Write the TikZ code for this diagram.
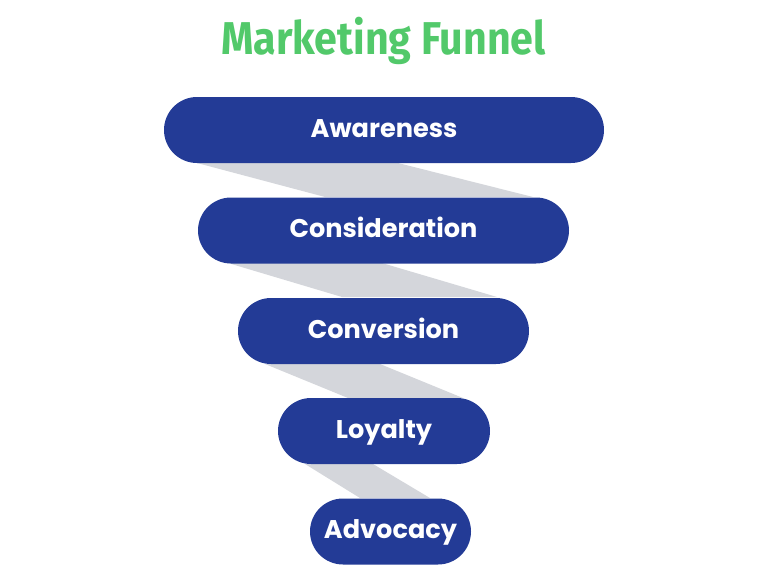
\documentclass[tikz,border=0pt]{standalone}
\usepackage{fontspec}
\newfontfamily\barfont{Poppins}
\newfontfamily\titlefont{Fira Sans}[FakeStretch=0.895]
\usetikzlibrary{calc}
\definecolor{barblue}{RGB}{35,59,150}
\definecolor{bandgray}{RGB}{212,214,219}
\definecolor{titlegreen}{RGB}{82,201,106}
\begin{document}
\begin{tikzpicture}[x=1pt,y=-1pt,
  stage/.style={fill=barblue, draw=none, rounded corners=33pt, minimum height=66pt,
    inner sep=0pt, text=white, font=\barfont\bfseries\fontsize{25.6}{30}\selectfont,
    text height=19pt, text depth=5pt},
  band/.style={fill=bandgray, draw=none}]
\useasboundingbox (0,0) rectangle (768,576);
\node[font=\titlefont\bfseries\fontsize{46}{50}\selectfont, text=titlegreen, anchor=base] (title) at (383.5,54) {Marketing Funnel};
% bands
\fill[band] (197,163) -- (398,163) -- (533,197) -- (325,197) -- cycle;
\fill[band] (228,263) -- (382,263) -- (497,297) -- (342,297) -- cycle;
\fill[band] (265,364) -- (380,364) -- (463,398) -- (348,398) -- cycle;
\fill[band] (305,464) -- (373,464) -- (430,498) -- (360,498) -- cycle;
% bars
\node[stage, minimum width=440pt] (aw) at (384,130) {Awareness};
\node[stage, minimum width=371pt] (co) at (383.5,230.5) {Consideration};
\node[stage, minimum width=291pt] (cv) at (383.5,331) {Conversion};
\node[stage, minimum width=212pt] (lo) at (384,431) {Loyalty};
\node[stage, minimum width=161pt] (ad) at (390.5,531.5) {Advocacy};
\end{tikzpicture}
\end{document}
